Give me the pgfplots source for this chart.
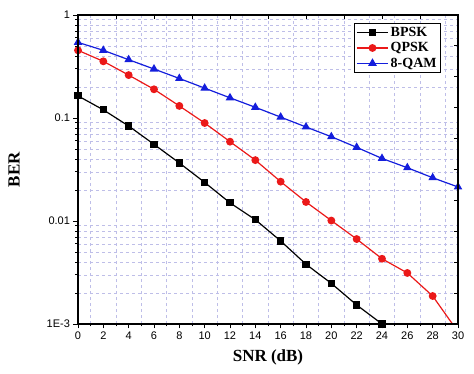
\documentclass[border=0pt]{standalone}
\usepackage{fontspec}
\setmainfont{Liberation Serif}
\setsansfont{Liberation Sans}
\usepackage{pgfplots}
\pgfplotsset{compat=1.18}
\definecolor{gridc}{RGB}{190,190,232}
\definecolor{myred}{RGB}{235,25,25}
\definecolor{myblue}{RGB}{20,30,220}
\begin{document}
\begin{tikzpicture}
\useasboundingbox (-78pt,-50pt) rectangle (396pt,324pt);
\begin{axis}[
  scale only axis, width=380pt, height=309pt,
  xmin=0, xmax=30, ymin=1e-3, ymax=1,
  ymode=log,
  xtick={0,2,...,30}, minor x tick num=1,
  ytick={1e-3,1e-2,1e-1,1},
  minor ytick={2e-3,3e-3,4e-3,5e-3,6e-3,7e-3,8e-3,9e-3,
               2e-2,3e-2,4e-2,5e-2,6e-2,7e-2,8e-2,9e-2,
               2e-1,3e-1,4e-1,5e-1,6e-1,7e-1,8e-1,9e-1},
  yticklabels={1E-3,0.01,0.1,1},
  xtick pos=left, ytick pos=left,
  tick align=outside,
  major tick length=4.5pt, minor tick length=2.5pt,
  tick style={black, line width=0.8pt},
  axis line style={line width=1.1pt},
  /pgf/number format/assume math mode=true,
  tick label style={font=\sffamily\fontsize{11}{12}\selectfont},
  xminorgrids, yminorgrids,
  minor grid style={gridc, dashed, line width=0.5pt},
  xlabel={\textbf{SNR (dB)}}, ylabel={\textbf{BER}},
  label style={font=\fontsize{17}{18}\selectfont},
  xlabel style={at={(axis description cs:0.5,-0.107)}, anchor=center},
  ylabel style={at={(axis description cs:-0.168,0.5)}, anchor=center},
  legend style={at={(rel axis cs:0.955,0.974)}, anchor=north east,
    font=\bfseries\fontsize{14}{15}\selectfont, draw=black, line width=0.6pt,
    row sep=0.5pt, inner sep=2pt},
  legend cell align=left,
  legend image code/.code={
    \draw[mark repeat=2,mark phase=2,#1] plot coordinates {(0cm,0cm) (0.55cm,0cm) (1.1cm,0cm)};
  },
  clip=true,
]
\addplot[black, line width=1.2pt, mark=square*, mark size=3pt, mark options={solid}] coordinates {
(0,0.164) (2,0.12) (4,0.0836) (6,0.0555) (8,0.0366) (10,0.0237) (12,0.015)
(14,0.0103) (16,0.0064) (18,0.0038) (20,0.00248) (22,0.00153) (24,0.001)
};
\addlegendentry{BPSK}
\addplot[myred, line width=1.2pt, mark=*, mark size=3.3pt, mark options={solid}] coordinates {
(0,0.454) (2,0.355) (4,0.261) (6,0.19) (8,0.131) (10,0.0894) (12,0.0589)
(14,0.039) (16,0.0241) (18,0.0153) (20,0.0101) (22,0.00668) (24,0.0043)
(26,0.00313) (28,0.00187) (30,0.00084)
};
\addlegendentry{QPSK}
\addplot[myblue, line width=1.2pt, mark=triangle*, mark size=3.8pt, mark options={solid}] coordinates {
(0,0.542) (2,0.454) (4,0.368) (6,0.299) (8,0.242) (10,0.195) (12,0.157)
(14,0.127) (16,0.102) (18,0.0818) (20,0.0658) (22,0.0519) (24,0.0405)
(26,0.0329) (28,0.0263) (30,0.0214)
};
\addlegendentry{8-QAM}
\end{axis}
\begin{axis}[
  scale only axis, width=380pt, height=309pt,
  xmin=0, xmax=30, ymin=0, ymax=10,
  xtick={0,3,...,30}, ytick={0,1,...,10},
  xticklabels={}, yticklabels={},
  xtick pos=right, ytick pos=right,
  tick align=inside, major tick length=4pt,
  tick style={black, line width=0.8pt},
  axis line style={line width=1.1pt},
]
\end{axis}
\end{tikzpicture}
\end{document}
